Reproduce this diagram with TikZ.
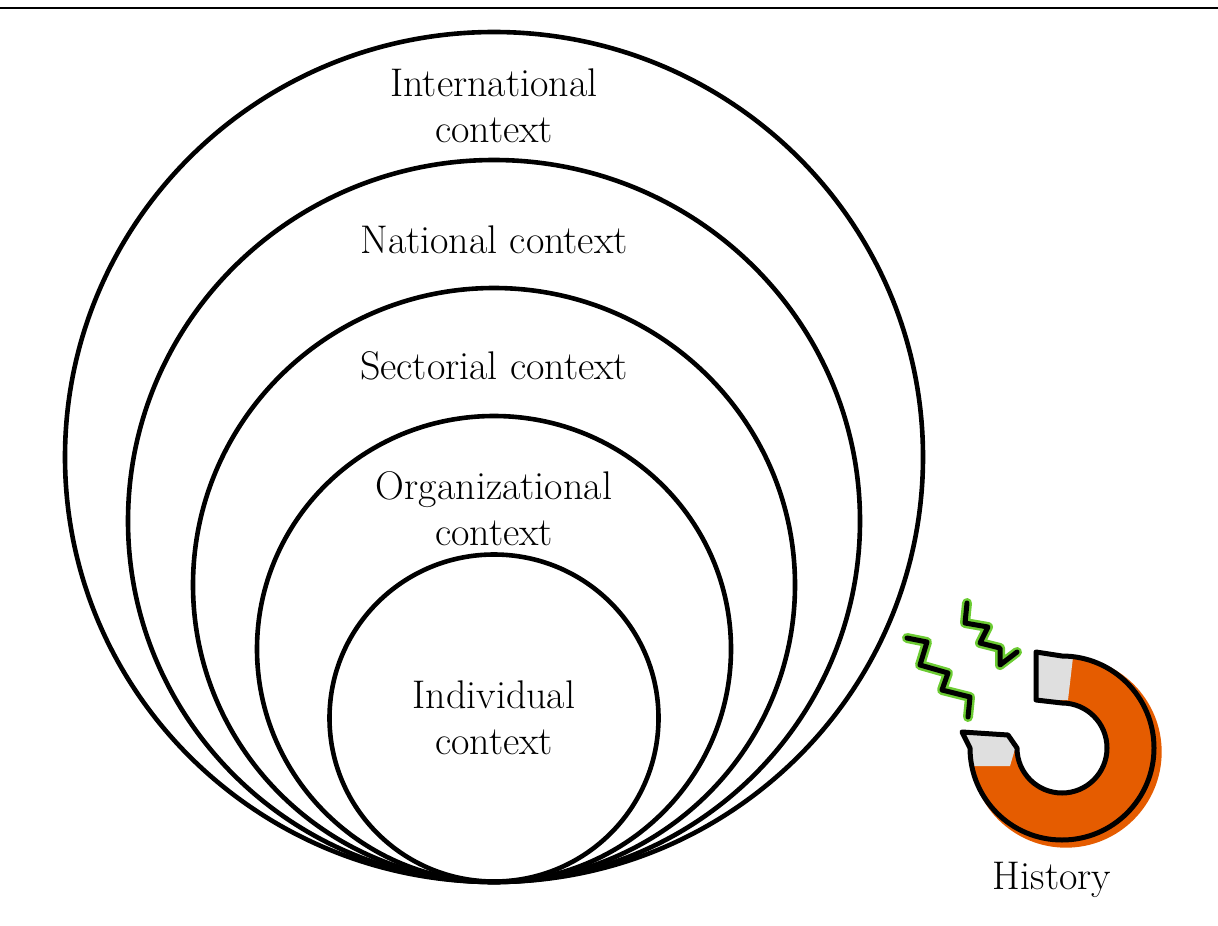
\documentclass[tikz,border=0pt]{standalone}
\begin{document}
\begin{tikzpicture}[x=1pt,y=-1pt,
  ring/.style={line width=4.6pt,draw=black},
  lab/.style={font=\fontsize{40}{46}\selectfont,align=center},
  zig/.style={line width=10pt,draw=green!50!lime!60!gray,line join=round,line cap=round},
  zigin/.style={line width=5pt,draw=black,line join=round,line cap=round}]
\useasboundingbox (0,0) rectangle (1218,926);
\draw[line width=2pt] (0,8) -- (1218,8);
\draw[ring] (494,457) ellipse [x radius=429,y radius=425];
\draw[ring] (494,521) ellipse [x radius=366,y radius=361];
\draw[ring] (494,585) ellipse [x radius=301,y radius=297];
\draw[ring] (494,649) ellipse [x radius=237,y radius=233];
\draw[ring] (494,718) ellipse [x radius=164.5,y radius=163.5];
\node[lab] (intl) at (494,106) {International\\context};
\node[lab] (nat) at (494,240) {National context};
\node[lab] (sec) at (494,366) {Sectorial context};
\node[lab] (org) at (494,509) {Organizational\\context};
\node[lab] (ind) at (494,718) {Individual\\context};
\node[lab] (hist) at (1052,880) {History};
% magnet
\def\mag{(962,732) -- (970,748) arc[start angle=180,end angle=-90,radius=92] -- (1036,652) -- (1036,700) -- (1062,703) arc[start angle=-90,end angle=180,radius=45] -- (1008,735) -- cycle}
\fill[orange!80!red!90!black, shift={(4,4)}, scale around={1.04:(1062,748)}] \mag;
\fill[orange!80!red!90!black] \mag;
\begin{scope}
\clip (950,715) -- (1025,715) -- (1010,766) -- (950,766) -- cycle (1030,640) -- (1075,640) -- (1068,700) -- (1030,700) -- cycle;
\fill[gray!25] \mag;
\end{scope}
\draw[line width=5pt,line join=round] \mag;
\draw[zig] (907,638)--(927,642)--(920,665)--(948,673)--(942,690)--(970,697)--(968,717);
\draw[zigin] (907,638)--(927,642)--(920,665)--(948,673)--(942,690)--(970,697)--(968,717);
\draw[zig] (967,603)--(965,623)--(988,627)--(980,643)--(1000,648)--(1000,665)--(1017,652);
\draw[zigin] (967,603)--(965,623)--(988,627)--(980,643)--(1000,648)--(1000,665)--(1017,652);
\end{tikzpicture}
\end{document}
